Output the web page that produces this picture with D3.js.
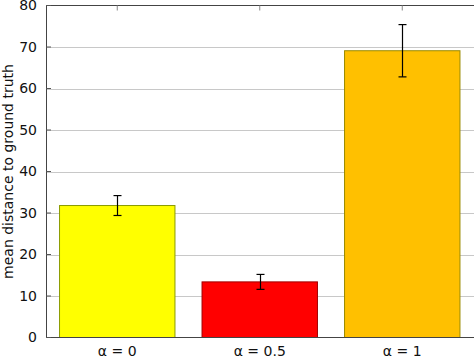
<!DOCTYPE html>
<html><head><meta charset="utf-8">
<script src="https://cdn.jsdelivr.net/npm/d3@7"></script>
<style>body{margin:0;background:#fff}svg{display:block}</style>
</head><body>
<script>
const categories = ["α = 0", "α = 0.5", "α = 1"];
const means = [31.8, 13.4, 69.1];
const errLow = [29.4, 11.6, 62.8];
const errHigh = [34.2, 15.2, 75.4];
const colors = ["#ffff00", "#ff0000", "#ffc000"];
const strokes = ["#8a9a00", "#a00000", "#9a8a00"];
const yTicks = [0, 10, 20, 30, 40, 50, 60, 70, 80];

const W = 474, H = 357;
const m = {left: 46, right: 0.5, top: 5, bottom: 19};
const svg = d3.select("body").append("svg").attr("width", W).attr("height", H);
const x = d3.scaleBand().domain(categories).range([m.left, W - m.right + 0]).paddingInner(0.19).paddingOuter(0.095);
const y = d3.scaleLinear().domain([0, 80]).range([H - m.bottom - 0.5, m.top + 0.5]);
const font = "DejaVu Sans, sans-serif";

// gridlines
svg.append("g").selectAll("line").data(yTicks.slice(1, -1)).join("line")
  .attr("x1", m.left).attr("x2", W)
  .attr("y1", d => Math.round(y(d)) + 0.5).attr("y2", d => Math.round(y(d)) + 0.5)
  .attr("stroke", "#c8c8c8").attr("stroke-width", 1);

// bars
svg.append("g").selectAll("rect").data(categories).join("rect")
  .attr("x", d => x(d)).attr("width", x.bandwidth())
  .attr("y", (d, i) => y(means[i])).attr("height", (d, i) => y(0) - y(means[i]))
  .attr("fill", (d, i) => colors[i]).attr("stroke", (d, i) => strokes[i]).attr("stroke-width", 1);

// error bars
const eg = svg.append("g").attr("stroke", "#000").attr("stroke-width", 1.2);
categories.forEach((c, i) => {
  const cx = Math.round(x(c) + x.bandwidth() / 2) + 0.5;
  eg.append("line").attr("x1", cx).attr("x2", cx).attr("y1", y(errLow[i])).attr("y2", y(errHigh[i]));
  eg.append("line").attr("x1", cx - 4).attr("x2", cx + 4).attr("y1", y(errLow[i])).attr("y2", y(errLow[i]));
  eg.append("line").attr("x1", cx - 4).attr("x2", cx + 4).attr("y1", y(errHigh[i])).attr("y2", y(errHigh[i]));
});

// axes frame
svg.append("line").attr("x1", m.left + 0.5).attr("x2", m.left + 0.5).attr("y1", y(80)).attr("y2", y(0)).attr("stroke", "#444");
svg.append("line").attr("x1", m.left).attr("x2", W).attr("y1", y(0)).attr("y2", y(0)).attr("stroke", "#444");
svg.append("line").attr("x1", m.left).attr("x2", W).attr("y1", y(80)).attr("y2", y(80)).attr("stroke", "#444");

const yAxis = d3.axisLeft(y).tickValues(yTicks).tickSize(0).tickPadding(9);
const ya = svg.append("g").attr("transform", `translate(${m.left},0)`).call(yAxis);
ya.select(".domain").remove();
ya.selectAll("text").attr("font-family", font).attr("font-size", 14).attr("fill", "#111");

// inward y ticks
svg.append("g").selectAll("line").data(yTicks).join("line")
  .attr("x1", m.left).attr("x2", m.left + 5)
  .attr("y1", d => y(d)).attr("y2", d => y(d)).attr("stroke", "#555");

// x ticks (top mirror)
svg.append("g").selectAll("line").data(categories).join("line")
  .attr("x1", d => x(d) + x.bandwidth() / 2).attr("x2", d => x(d) + x.bandwidth() / 2)
  .attr("y1", y(80)).attr("y2", y(80) + 5).attr("stroke", "#888");

const xAxis = d3.axisBottom(x).tickSize(0).tickPadding(9);
const xa = svg.append("g").attr("transform", `translate(0,${y(0)})`).call(xAxis);
xa.select(".domain").remove();
xa.selectAll("text").attr("font-family", font).attr("font-size", 14).attr("fill", "#111");

svg.append("text").attr("transform", `translate(13,${(y(0) + y(80)) / 2}) rotate(-90)`)
  .attr("text-anchor", "middle").attr("font-family", font).attr("font-size", 14).attr("fill", "#111")
  .text("mean distance to ground truth");
</script>
</body></html>
